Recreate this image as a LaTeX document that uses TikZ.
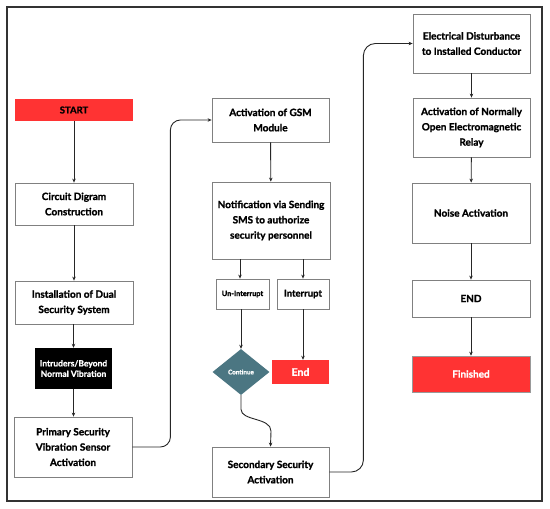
\documentclass[tikz,border=0pt]{standalone}
\usepackage{fontspec}
\setmainfont{Lato}[BoldFeatures={FakeBold=1.3}]
\usetikzlibrary{shapes.geometric,arrows.meta}
\definecolor{myred}{HTML}{FF3333}
\definecolor{myteal}{HTML}{4B7682}
\definecolor{bordergray}{HTML}{808080}
\tikzset{
  box/.style={draw=bordergray, line width=0.8pt, fill=white, align=center, inner sep=0pt,
    font=\bfseries\fontsize{10}{15.3}\selectfont},
  redbox/.style={fill=myred, draw=none, align=center, inner sep=0pt},
  arr/.style={draw=black!85, line width=0.9pt, -{Stealth[length=4pt,width=3.5pt]}},
  sz/.style n args={2}{minimum width=#1pt, minimum height=#2pt},
}
\begin{document}
\begin{tikzpicture}[x=1pt,y=-1pt]
\useasboundingbox (0,0) rectangle (550,509);
\fill[white] (0,0) rectangle (550,509);
\draw[black!80, line width=1.4pt] (7,7) rectangle (542,501);

% left column
\node[redbox, sz={118}{22}, font=\bfseries\fontsize{9.5}{12}\selectfont] (start) at (74,110) {START};
\node[box, sz={118}{42}] (circ) at (74,204) {Circuit Digram\\Construction};
\node[box, sz={118}{43}] (inst) at (74,302.5) {Installation of Dual\\Security System};
\node[fill=black, draw=none, inner sep=0pt, align=center, text=white, sz={77}{41},
  font=\bfseries\fontsize{8.5}{10.5}\selectfont] (intr) at (73.5,368.5) {Intruders/Beyond\\Normal Vibration};
\node[box, sz={118}{60}] (prim) at (73,447) {Primary Security\\Vibration Sensor\\Activation};

% middle column
\node[box, sz={117}{44}] (gsm) at (270.5,120) {Activation of GSM\\Module};
\node[box, sz={118}{77}] (notif) at (271,220.5) {Notification via Sending\\SMS to authorize\\security personnel};
\node[box, sz={53}{30}, font=\bfseries\fontsize{7.3}{9}\selectfont] (unint) at (242.5,294) {Un-Interrupt};
\node[box, sz={52}{30}, font=\bfseries\fontsize{9.5}{11}\selectfont] (int) at (303,294) {Interrupt};
\node[diamond, fill=myteal, draw=none, inner sep=0pt, aspect=1.24, minimum width=57pt, minimum height=46pt,
  text=white, font=\bfseries\fontsize{6.3}{7}\selectfont] (cont) at (241,372) {Continue};
\node[redbox, sz={57}{24}, text=white, font=\bfseries\fontsize{10.5}{12}\selectfont] (endr) at (300.5,372) {End};
\node[box, sz={117}{50}] (sec) at (270.5,472) {Secondary Security\\Activation};

% right column
\node[box, sz={117}{59}] (elec) at (471.5,43.5) {Electrical Disturbance\\to Installed Conductor};
\node[box, sz={117}{59}] (relay) at (471.5,127.5) {Activation of Normally\\Open Electromagnetic\\Relay};
\node[box, sz={118}{60}] (noise) at (471,213) {Noise Activation};
\node[box, sz={118}{37}] (endb) at (471,298.5) {END};
\node[redbox, sz={118}{36}, draw=black!40, line width=0.6pt, text=white,
  font=\bfseries\fontsize{10}{12}\selectfont] (fin) at (471,374) {Finished};

% connectors
\draw[arr] (start) -- (circ);
\draw[arr] (circ) -- (inst);
\draw[arr] (inst.south -| intr.north) -- (intr);
\draw[arr] (intr) -- (prim.north -| intr.south);
\draw[arr, rounded corners=10pt] (prim.east) -- ++(38,0) |- (gsm.west);
\draw[arr] (gsm) -- (notif);
\draw[arr] (notif.south -| 240,0) -- (unint.north -| 240,0);
\draw[arr] (notif.south -| int.north) -- (int);
\draw[arr] (unint.south -| cont.north) -- (cont);
\draw[arr] (int) -- (endr.north -| int.south);
\draw[arr] (cont.south) -- ++(0,14) .. controls +(0,12) and +(0,-14) .. ++(30,22) -- (sec.north);
\draw[arr, rounded corners=12pt] (sec.east) -- ++(34,0) |- (elec.west);
\draw[arr] (elec) -- (relay);
\draw[arr] (relay) -- (noise);
\draw[arr] (noise) -- (endb);
\draw[arr] (endb) -- (fin);
\end{tikzpicture}
\end{document}
